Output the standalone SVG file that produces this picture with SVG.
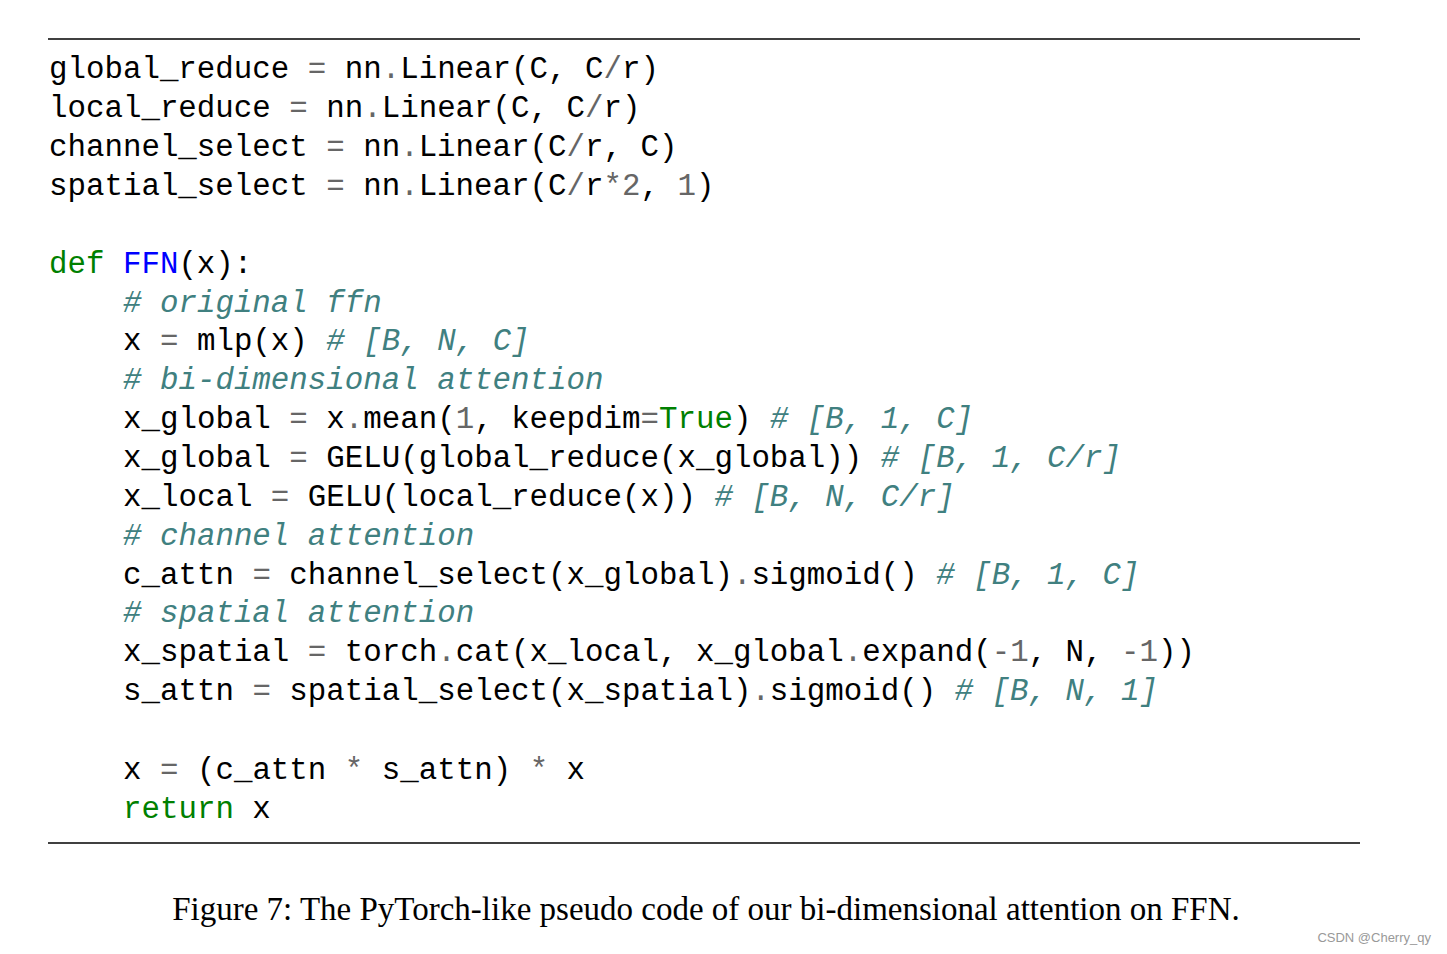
<svg xmlns="http://www.w3.org/2000/svg" width="1447" height="954" viewBox="0 0 1447 954" xml:space="preserve">
<style>
.c{font-family:"Liberation Mono","DejaVu Sans Mono",monospace;font-size:30.8px;fill:#000;white-space:pre}
.k{fill:#008000}.f{fill:#0000ff}.m{fill:#408080;font-style:italic}.n{fill:#666666}.o{fill:#666666}
</style>
<rect width="1447" height="954" fill="#fff"/>
<g stroke="#000" stroke-width="1.5"><line x1="48" y1="39" x2="1360" y2="39"/><line x1="48" y1="843" x2="1360" y2="843"/></g>
<g class="c">
<text x="49" y="78">global_reduce <tspan class="o">=</tspan> nn<tspan class="o">.</tspan>Linear(C, C<tspan class="o">/</tspan>r)</text>
<text x="49" y="117">local_reduce <tspan class="o">=</tspan> nn<tspan class="o">.</tspan>Linear(C, C<tspan class="o">/</tspan>r)</text>
<text x="49" y="156">channel_select <tspan class="o">=</tspan> nn<tspan class="o">.</tspan>Linear(C<tspan class="o">/</tspan>r, C)</text>
<text x="49" y="195">spatial_select <tspan class="o">=</tspan> nn<tspan class="o">.</tspan>Linear(C<tspan class="o">/</tspan>r<tspan class="o">*</tspan><tspan class="n">2</tspan>, <tspan class="n">1</tspan>)</text>
<text x="49" y="273"><tspan class="k">def</tspan> <tspan class="f">FFN</tspan>(x):</text>
<text x="123" y="312"><tspan class="m"># original ffn</tspan></text>
<text x="123" y="350">x <tspan class="o">=</tspan> mlp(x)  <tspan class="m"># [B, N, C]</tspan></text>
<text x="123" y="389"><tspan class="m"># bi-dimensional attention</tspan></text>
<text x="123" y="428">x_global <tspan class="o">=</tspan> x<tspan class="o">.</tspan>mean(<tspan class="n">1</tspan>, keepdim<tspan class="o">=</tspan><tspan class="k">True</tspan>)  <tspan class="m"># [B, 1, C]</tspan></text>
<text x="123" y="467">x_global <tspan class="o">=</tspan> GELU(global_reduce(x_global))  <tspan class="m"># [B, 1, C/r]</tspan></text>
<text x="123" y="506">x_local <tspan class="o">=</tspan> GELU(local_reduce(x))  <tspan class="m"># [B, N, C/r]</tspan></text>
<text x="123" y="545"><tspan class="m"># channel attention</tspan></text>
<text x="123" y="584">c_attn <tspan class="o">=</tspan> channel_select(x_global)<tspan class="o">.</tspan>sigmoid()  <tspan class="m"># [B, 1, C]</tspan></text>
<text x="123" y="622"><tspan class="m"># spatial attention</tspan></text>
<text x="123" y="661">x_spatial <tspan class="o">=</tspan> torch<tspan class="o">.</tspan>cat(x_local, x_global<tspan class="o">.</tspan>expand(<tspan class="o">-</tspan><tspan class="n">1</tspan>, N, <tspan class="o">-</tspan><tspan class="n">1</tspan>))</text>
<text x="123" y="700">s_attn <tspan class="o">=</tspan> spatial_select(x_spatial)<tspan class="o">.</tspan>sigmoid()  <tspan class="m"># [B, N, 1]</tspan></text>
<text x="123" y="779">x <tspan class="o">=</tspan> (c_attn <tspan class="o">*</tspan> s_attn) <tspan class="o">*</tspan> x</text>
<text x="123" y="818"><tspan class="k">return</tspan> x</text>
</g>
<text x="706" y="920" text-anchor="middle" font-family="Liberation Serif,serif" font-size="33">Figure 7: The PyTorch-like pseudo code of our bi-dimensional attention on FFN.</text>
<text x="1431" y="942" text-anchor="end" font-family="Liberation Sans,sans-serif" font-size="13" fill="#999">CSDN @Cherry_qy</text>
</svg>
